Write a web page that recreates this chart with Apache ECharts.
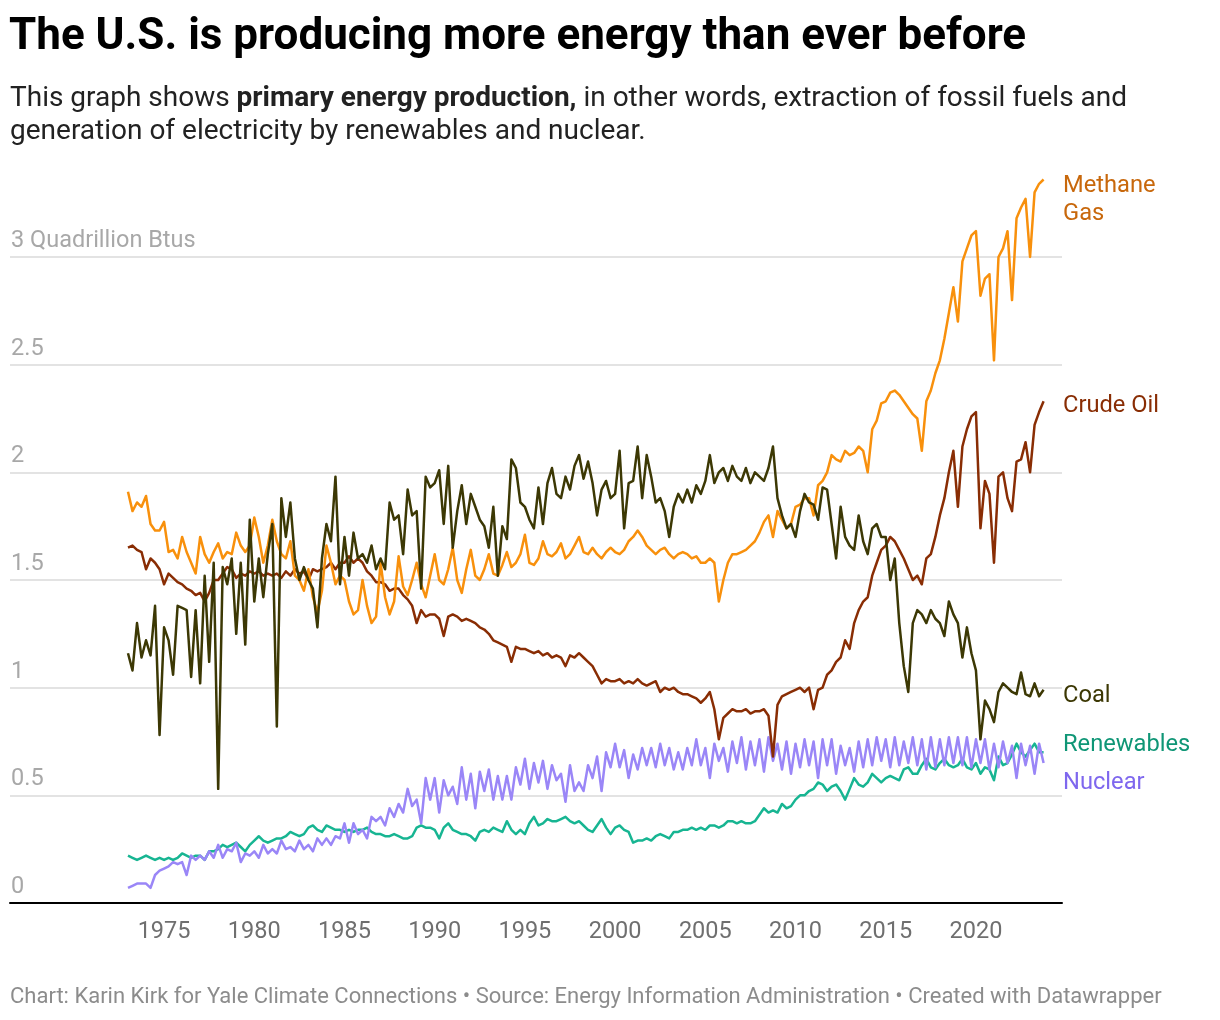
<!DOCTYPE html>
<html>
<head>
<meta charset="utf-8">
<script src="https://cdn.jsdelivr.net/npm/echarts@6/dist/echarts.min.js"></script>
<style>
  html, body { margin: 0; padding: 0; background: #fff; }
  #chart { width: 1220px; height: 1020px; }
</style>
</head>
<body>
<div id="chart"></div>
<script>
// quarterly values (Jan, Apr, Jul, Oct), 1973 to 2023, quadrillion Btu per month
var startYear = 1973;
var yearTicks = [1975, 1980, 1985, 1990, 1995, 2000, 2005, 2010, 2015, 2020];

var methane = [
  1.91, 1.82, 1.86, 1.84,  1.89, 1.76, 1.73, 1.73,  1.77, 1.63, 1.64, 1.60,  1.70, 1.63, 1.58, 1.53,
  1.70, 1.62, 1.58, 1.63,  1.67, 1.60, 1.63, 1.62,  1.72, 1.66, 1.63, 1.66,  1.79, 1.70, 1.58, 1.66,
  1.78, 1.68, 1.62, 1.60,  1.68, 1.52, 1.50, 1.45,  1.55, 1.42, 1.35, 1.45,  1.66, 1.58, 1.48, 1.52,
  1.50, 1.40, 1.34, 1.36,  1.50, 1.38, 1.30, 1.33,  1.58, 1.42, 1.34, 1.40,  1.61, 1.47, 1.43, 1.50,
  1.58, 1.48, 1.42, 1.52,  1.62, 1.50, 1.48, 1.55,  1.65, 1.50, 1.44, 1.55,  1.64, 1.52, 1.50, 1.55,
  1.62, 1.53, 1.52, 1.57,  1.63, 1.56, 1.58, 1.62,  1.71, 1.58, 1.57, 1.60,  1.68, 1.62, 1.61, 1.63,
  1.67, 1.60, 1.62, 1.66,  1.70, 1.63, 1.62, 1.65,  1.62, 1.60, 1.63, 1.65,  1.63, 1.62, 1.64, 1.68,
  1.70, 1.73, 1.70, 1.66,  1.64, 1.62, 1.64, 1.65,  1.62, 1.60, 1.62, 1.63,  1.62, 1.60, 1.61, 1.58,
  1.58, 1.60, 1.58, 1.40,  1.50, 1.58, 1.62, 1.62,  1.63, 1.64, 1.66, 1.68,  1.72, 1.77, 1.80, 1.70,
  1.82, 1.78, 1.74, 1.76,  1.84, 1.85, 1.88, 1.88,  1.80, 1.94, 1.96, 2.00,  2.08, 2.06, 2.05, 2.10,
  2.08, 2.09, 2.12, 2.10,  2.00, 2.20, 2.24, 2.32,  2.33, 2.37, 2.38, 2.36,  2.33, 2.30, 2.27, 2.25,
  2.10, 2.33, 2.38, 2.46,  2.52, 2.62, 2.74, 2.86,  2.70, 2.98, 3.04, 3.10,  3.12, 2.82, 2.90, 2.92,
  2.52, 3.00, 3.04, 3.12,  2.80, 3.18, 3.23, 3.27,  3.00, 3.30, 3.34, 3.36
];

var crudeOil = [
  1.65, 1.66, 1.64, 1.63,  1.55, 1.60, 1.58, 1.55,  1.48, 1.53, 1.51, 1.49,  1.48, 1.46, 1.45, 1.43,
  1.44, 1.40, 1.44, 1.50,  1.50, 1.53, 1.56, 1.55,  1.51, 1.53, 1.52, 1.54,  1.53, 1.54, 1.52, 1.53,
  1.52, 1.53, 1.51, 1.54,  1.52, 1.55, 1.53, 1.54,  1.50, 1.55, 1.54, 1.55,  1.56, 1.58, 1.55, 1.58,
  1.58, 1.61, 1.58, 1.60,  1.58, 1.54, 1.52, 1.49,  1.49, 1.48, 1.45, 1.46,  1.46, 1.43, 1.41, 1.38,
  1.30, 1.36, 1.33, 1.34,  1.34, 1.32, 1.24, 1.33,  1.34, 1.33, 1.31, 1.32,  1.31, 1.30, 1.28, 1.27,
  1.25, 1.22, 1.21, 1.20,  1.19, 1.12, 1.19, 1.18,  1.18, 1.17, 1.16, 1.17,  1.15, 1.16, 1.14, 1.15,
  1.14, 1.10, 1.15, 1.14,  1.16, 1.14, 1.12, 1.10,  1.06, 1.02, 1.04, 1.03,  1.03, 1.04, 1.02, 1.03,
  1.02, 1.04, 1.02, 1.01,  1.02, 1.03, 0.98, 1.00,  0.99, 1.00, 0.98, 0.97,  0.97, 0.96, 0.95, 0.93,
  0.95, 0.98, 0.90, 0.76,  0.86, 0.88, 0.90, 0.89,  0.89, 0.90, 0.88, 0.89,  0.89, 0.90, 0.87, 0.68,
  0.92, 0.96, 0.97, 0.98,  0.99, 1.00, 0.98, 1.00,  0.90, 0.99, 1.00, 1.06,  1.08, 1.12, 1.14, 1.22,
  1.18, 1.30, 1.36, 1.40,  1.42, 1.52, 1.58, 1.64,  1.66, 1.70, 1.68, 1.64,  1.60, 1.55, 1.50, 1.52,
  1.48, 1.60, 1.62, 1.70,  1.80, 1.88, 2.00, 2.10,  1.84, 2.12, 2.20, 2.26,  2.28, 1.74, 1.96, 1.90,
  1.58, 1.98, 2.00, 1.88,  1.82, 2.05, 2.06, 2.14,  2.00, 2.22, 2.28, 2.33
];

var coal = [
  1.16, 1.08, 1.30, 1.14,  1.22, 1.15, 1.38, 0.78,  1.28, 1.22, 1.06, 1.38,  1.37, 1.36, 1.05, 1.36,
  1.02, 1.52, 1.12, 1.58,  0.53, 1.56, 1.48, 1.60,  1.25, 1.58, 1.20, 1.78,  1.40, 1.60, 1.42, 1.62,
  1.76, 0.82, 1.88, 1.70,  1.86, 1.60, 1.50, 1.56,  1.50, 1.46, 1.28, 1.60,  1.76, 1.68, 1.98, 1.48,
  1.70, 1.52, 1.72, 1.60,  1.62, 1.58, 1.66, 1.55,  1.60, 1.55, 1.86, 1.78,  1.80, 1.62, 1.92, 1.80,
  1.82, 1.46, 1.98, 1.93,  1.95, 2.01, 1.76, 2.03,  1.65, 1.82, 1.94, 1.76,  1.90, 1.84, 1.78, 1.75,
  1.65, 1.84, 1.52, 1.75,  1.69, 2.06, 2.02, 1.86,  1.84, 1.78, 1.74, 1.93,  1.76, 1.95, 2.02, 1.90,
  1.88, 1.98, 1.92, 2.03,  2.08, 1.97, 2.05, 1.95,  1.80, 1.92, 1.96, 1.88,  1.90, 2.10, 1.74, 1.95,
  1.96, 2.12, 1.88, 2.08,  1.98, 1.86, 1.88, 1.82,  1.70, 1.84, 1.90, 1.86,  1.92, 1.86, 1.94, 1.90,
  1.96, 2.08, 1.95, 2.00,  2.02, 1.96, 2.03, 1.98,  1.96, 2.02, 1.95, 2.00,  1.98, 1.96, 2.02, 2.12,
  1.88, 1.80, 1.74, 1.76,  1.70, 1.82, 1.90, 1.86,  1.85, 1.78, 1.93, 1.92,  1.76, 1.60, 1.84, 1.70,
  1.66, 1.64, 1.80, 1.68,  1.62, 1.74, 1.76, 1.70,  1.70, 1.50, 1.60, 1.30,  1.10, 0.98, 1.30, 1.36,
  1.34, 1.30, 1.36, 1.32,  1.30, 1.24, 1.40, 1.34,  1.30, 1.14, 1.28, 1.16,  1.08, 0.76, 0.94, 0.90,
  0.84, 0.98, 1.02, 1.00,  0.98, 0.97, 1.07, 0.97,  0.96, 1.02, 0.96, 0.99
];

var renewables = [
  0.22, 0.21, 0.20, 0.21,  0.22, 0.21, 0.20, 0.21,  0.20, 0.21, 0.20, 0.21,  0.23, 0.22, 0.21, 0.22,
  0.22, 0.20, 0.24, 0.24,  0.25, 0.27, 0.26, 0.27,  0.28, 0.26, 0.24, 0.27,  0.29, 0.31, 0.29, 0.28,
  0.29, 0.30, 0.30, 0.31,  0.33, 0.32, 0.31, 0.32,  0.35, 0.36, 0.34, 0.33,  0.36, 0.35, 0.34, 0.34,
  0.33, 0.34, 0.33, 0.34,  0.34, 0.35, 0.33, 0.32,  0.32, 0.31, 0.31, 0.32,  0.31, 0.30, 0.30, 0.31,
  0.35, 0.36, 0.35, 0.35,  0.34, 0.30, 0.35, 0.37,  0.34, 0.33, 0.32, 0.32,  0.31, 0.29, 0.33, 0.34,
  0.33, 0.35, 0.34, 0.33,  0.38, 0.34, 0.32, 0.34,  0.32, 0.37, 0.40, 0.36,  0.37, 0.39, 0.38, 0.38,
  0.39, 0.40, 0.38, 0.37,  0.38, 0.36, 0.34, 0.33,  0.36, 0.39, 0.35, 0.32,  0.35, 0.36, 0.34, 0.33,
  0.28, 0.29, 0.29, 0.30,  0.29, 0.31, 0.32, 0.31,  0.30, 0.33, 0.33, 0.34,  0.34, 0.35, 0.34, 0.35,
  0.34, 0.36, 0.36, 0.35,  0.36, 0.38, 0.38, 0.37,  0.38, 0.37, 0.37, 0.38,  0.41, 0.44, 0.42, 0.43,
  0.42, 0.46, 0.44, 0.45,  0.48, 0.50, 0.50, 0.52,  0.53, 0.56, 0.55, 0.52,  0.54, 0.55, 0.52, 0.48,
  0.53, 0.58, 0.55, 0.54,  0.56, 0.60, 0.58, 0.56,  0.58, 0.59, 0.58, 0.57,  0.62, 0.63, 0.60, 0.60,
  0.64, 0.67, 0.63, 0.62,  0.65, 0.67, 0.64, 0.63,  0.64, 0.67, 0.63, 0.62,  0.65, 0.60, 0.63, 0.62,
  0.57, 0.68, 0.64, 0.65,  0.69, 0.74, 0.70, 0.68,  0.71, 0.74, 0.70, 0.70
];

var nuclear = [
  0.07, 0.08, 0.09, 0.09,  0.09, 0.07, 0.13, 0.15,  0.16, 0.17, 0.19, 0.18,  0.19, 0.13, 0.22, 0.20,
  0.22, 0.20, 0.24, 0.21,  0.27, 0.21, 0.25, 0.24,  0.28, 0.19, 0.23, 0.22,  0.24, 0.21, 0.27, 0.23,
  0.25, 0.23, 0.29, 0.25,  0.26, 0.24, 0.29, 0.25,  0.27, 0.24, 0.30, 0.27,  0.30, 0.27, 0.31, 0.30,
  0.37, 0.28, 0.37, 0.32,  0.34, 0.30, 0.40, 0.38,  0.40, 0.36, 0.44, 0.40,  0.46, 0.42, 0.53, 0.45,
  0.48, 0.37, 0.58, 0.48,  0.58, 0.42, 0.57, 0.50,  0.54, 0.46, 0.63, 0.48,  0.60, 0.44, 0.61, 0.52,
  0.62, 0.48, 0.59, 0.48,  0.59, 0.48, 0.63, 0.55,  0.67, 0.53, 0.65, 0.56,  0.66, 0.53, 0.64, 0.57,
  0.60, 0.47, 0.64, 0.52,  0.56, 0.52, 0.64, 0.58,  0.68, 0.52, 0.70, 0.63,  0.74, 0.63, 0.71, 0.58,
  0.69, 0.62, 0.72, 0.64,  0.72, 0.63, 0.74, 0.64,  0.72, 0.62, 0.70, 0.62,  0.72, 0.64, 0.76, 0.64,
  0.72, 0.58, 0.74, 0.66,  0.72, 0.61, 0.75, 0.65,  0.77, 0.62, 0.75, 0.64,  0.76, 0.61, 0.77, 0.66,
  0.74, 0.62, 0.75, 0.60,  0.74, 0.63, 0.76, 0.64,  0.75, 0.58, 0.76, 0.64,  0.76, 0.60, 0.73, 0.64,
  0.72, 0.61, 0.75, 0.63,  0.76, 0.64, 0.77, 0.66,  0.76, 0.63, 0.77, 0.64,  0.75, 0.65, 0.77, 0.64,
  0.76, 0.62, 0.77, 0.63,  0.76, 0.64, 0.77, 0.65,  0.77, 0.64, 0.77, 0.63,  0.76, 0.65, 0.76, 0.62,
  0.74, 0.63, 0.75, 0.65,  0.73, 0.58, 0.74, 0.64,  0.73, 0.60, 0.74, 0.65
];

function toPoints(vals) {
  return vals.map(function (v, i) { return [startYear + i / 4, v]; });
}

var chart = echarts.init(document.getElementById("chart"));
var font = "Roboto, sans-serif";

function line(name, vals, color) {
  return {
    name: name,
    type: "line",
    data: toPoints(vals),
    showSymbol: false,
    clip: false,
    lineStyle: { color: color, width: 2.5, join: "round" },
    emphasis: { disabled: true }
  };
}

function endLabel(text, top, color) {
  return {
    type: "text",
    left: 1063,
    top: top,
    style: { text: text, fill: color, font: "23.7px " + font, lineHeight: 28 }
  };
}

var option = {
  animation: false,
  backgroundColor: "#fff",
  title: [
    {
      text: "The U.S. is producing more energy than ever before",
      left: 9,
      top: 16,
      padding: 0,
      textStyle: { fontFamily: font, fontWeight: 700, fontSize: 44, color: "#000" }
    },
    {
      text: "{n|This graph shows }{b|primary energy production,}{n| in other words, extraction of fossil fuels and}\n{n|generation of electricity by renewables and nuclear.}",
      left: 10,
      top: 82,
      padding: 0,
      textStyle: {
        fontWeight: 400,
        rich: {
          n: { fontFamily: font, fontSize: 28, fontWeight: 400, color: "#222", lineHeight: 33 },
          b: { fontFamily: font, fontSize: 28, fontWeight: 700, color: "#222", lineHeight: 33 }
        }
      }
    },
    {
      text: "Chart: Karin Kirk for Yale Climate Connections \u2022 Source: Energy Information Administration \u2022 Created with Datawrapper",
      left: 10,
      top: 986,
      padding: 0,
      textStyle: { fontFamily: font, fontWeight: 400, fontSize: 22, color: "#8c8c8c" }
    }
  ],
  grid: { left: 10, right: 158, top: 257, bottom: 117, containLabel: false },
  xAxis: {
    type: "value",
    min: 1966.46,
    max: 2024.77,
    axisLine: { show: true, onZero: false, lineStyle: { color: "#000", width: 2 } },
    axisTick: { show: false },
    splitLine: { show: false },
    axisLabel: {
      customValues: yearTicks,
      margin: 17,
      fontFamily: font,
      fontSize: 23.5,
      color: "#6f6f6f",
      formatter: function (v) { return String(v); }
    }
  },
  yAxis: {
    type: "value",
    min: 0,
    max: 3,
    interval: 0.5,
    axisLine: { show: false },
    axisTick: { show: false },
    splitLine: { lineStyle: { color: "#e3e3e3", width: 2 } },
    axisLabel: {
      inside: true,
      margin: 0,
      align: "left",
      verticalAlign: "bottom",
      padding: [0, 0, 4, 1],
      fontFamily: font,
      fontSize: 23.5,
      color: "#a8a8a8",
      formatter: function (v) { return v === 3 ? "3 Quadrillion Btus" : String(v); }
    }
  },
  series: [
    line("Renewables", renewables, "#17b592"),
    line("Nuclear", nuclear, "#9a86f7"),
    line("Crude Oil", crudeOil, "#892d04"),
    line("Methane Gas", methane, "#f8900c"),
    line("Coal", coal, "#3c3804")
  ],
  graphic: [
    endLabel("Methane\nGas", 172, "#c8680c"),
    endLabel("Crude Oil", 392, "#892d04"),
    endLabel("Coal", 682, "#3c3804"),
    endLabel("Renewables", 731, "#0f9676"),
    endLabel("Nuclear", 769, "#7e67ee")
  ]
};

chart.setOption(option);
</script>
</body>
</html>
